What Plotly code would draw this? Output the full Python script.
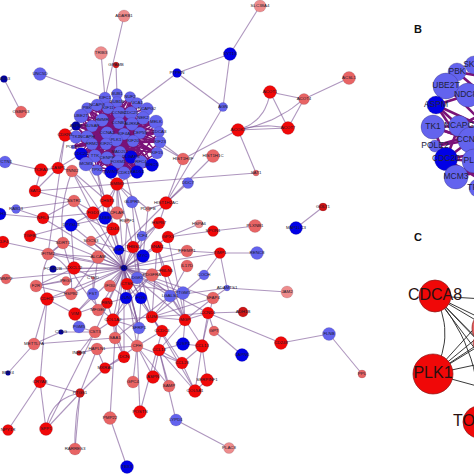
import numpy as np
import plotly.graph_objects as go

# module A, outer genes (layout position, group, degree-like weight)
genes = ["ADARB1","TRIB3","GPAMB","UNC5D","NEIL3","OSBPL3","PTPRN","SYT13","AGN","SLC38A4",
         "ACSL1","ACOT1","ACOT4","ACOT7","ACOX2","HIST1H1C","SAT1","HIST1H3F","DDC7","CDKN3",
         "TCTN1","TCEA3","CASP1","TNNI2","SMIM3","SAT2","SSTR1","CHST3","GLIPR1","HIST1H2AC",
         "RAB13","MYH2","NFIL3","FGD3","CFLAR","TUBB6","PDGFB","DPYSL3","CD44","RGPF1",
         "HSPB7","HSPA6","SPON1","TGFBI","GPX3","TCF4","KLF4","SDRT1","SOCS3","IFITM2",
         "ALCAM","CXCL12","EGR1","THBS1","MYC","SNAI2","EFEMP1","TIMP1","RENC8","IL17D",
         "FBLN5","COCH","FCGR2B","FN1","DGKI","PDGFRA","MMP2","F2R","PEG3","CTSD",
         "IFI30","CTSK","ADAMTS1","PTGMT","LGALS1","SFAP4","HSPB2","FST","CDH11","FBN1",
         "JUN","FOS","MFGE8","VIM","CCND1","LUM","MGP","COL1A2","PGM5","CST3",
         "SFRP1","CCDC3","GPT","CTSG","SAA1","METTL7A","DUSP1","CCL13","CFH","CCL18",
         "HAPLN1","INHBB","DCN","CCL28","MXRA5","BMP4","CAPN6","CD248","FLNB","PPL",
         "JAM2","ADH1B","PLXNB1","GOLT1","MAP1LC3","GPC4","ASPN","SAMP","SERPINF1","COL5A1",
         "CRYAB","PTGS1","POSTN","PMP22","LYPD1","SPP1","NPY1R","RARRES3","PLAC8","TBX3"]
gene_x = [124,101,116,40,4,21,177,230,223,260,
          349,270,304,288,238,213,256,183,188,65,
          5,41,58,72,117,35,74,107,132,166,
          16,0,43,93,117,105,148,71,113,127,
          159,199,213,30,168,142,3,63,91,48,
          98,74,119,133,143,157,187,220,257,187,
          166,204,53,124,137,152,6,36,66,93,
          110,127,227,183,170,213,71,93,47,107,
          126,141,98,75,208,152,185,113,79,95,
          139,162,214,61,115,34,183,202,137,159,
          97,79,124,182,105,8,242,281,329,362,
          287,243,255,323,296,133,153,169,207,195,
          40,80,140,110,176,46,8,75,229,127]
gene_y = [16,53,65,74,79,112,73,54,107,6,
          78,92,99,128,130,156,173,159,183,135,
          162,170,168,171,184,191,201,201,202,203,
          209,214,218,213,213,218,209,225,229,221,
          223,224,231,236,237,236,242,243,241,254,
          257,268,250,247,256,247,251,253,253,266,
          271,275,269,268,278,275,279,286,281,278,
          286,284,288,293,296,298,294,294,299,303,
          298,298,310,314,313,317,320,320,327,332,
          328,331,331,332,338,344,344,346,346,350,
          349,353,357,363,368,373,355,343,334,374,
          292,312,226,207,228,382,377,386,380,391,
          382,393,412,418,420,429,430,449,448,467]
gene_group = ["P","P","D","M","N","S","B","B","M","P",
              "S","R","S","R","R","S","S","S","M","R",
              "M","R","R","S","R","R","S","R","M","R",
              "M","B","R","R","S","B","P","B","R","P",
              "R","P","R","R","R","M","R","S","S","S",
              "S","R","B","R","B","R","S","R","M","S",
              "R","M","N","N","M","S","S","S","S","S",
              "S","R","M","M","M","S","S","M","R","R",
              "B","B","S","R","R","R","R","R","M","S",
              "M","R","S","N","S","S","B","R","S","R",
              "S","D","R","R","R","N","B","R","M","S",
              "P","D","S","D","B","S","R","S","R","R",
              "R","D","R","S","M","R","R","S","P","B"]
gene_weight = [6,6.5,3,6.5,3.5,6,4.5,6.5,4.5,6,
               6.5,6.5,5.5,6.5,6.5,6.5,3,6,5.5,6.5,
               6,6.5,6,6,6.5,6,6,6.5,6,6.5,
               4.5,6,6,6.5,6.5,6.5,2.5,6.5,6.5,2.5,
               6,4,5.5,6,6,5,6,6,5,6,
               6.5,6.5,5,6,6.5,6,6,5.5,6.5,6,
               6,5,3.5,3,6,6.5,5,6,4.5,1.5,
               6,6,3,6.5,6,6,6,6,6.5,5.5,
               6,6,6,6.5,6,6,6,6.5,6,6,
               6,6,5,2.5,6,6,6.5,6.5,6,6,
               6,2.5,6,6,5.5,2.5,6.5,6.5,6.5,4,
               6,5,6.5,4,6.5,6,6.5,6,6.5,6.5,
               6,4.5,6.5,6.5,6,6.5,5.5,6,5.5,6.5]

# module A, dense proliferation cluster
cluster = ["KIFC1","BUB1","NUF2","UCA1","BUB1B","PBK_a","NCAPG_a","KIF11","CCNB2","CDC25",
           "NCAPG2","UBE2T_a","HMMR","NEK2","MELK","NUSAP","CCNB1","AURKA","ASPM_a","CDCA3",
           "CEP55","CCNA2","KIF4A","TK1_a","NCAPH","KIF20","PLK1_a","KIF23","RRM2","KIF2C",
           "POLE2_a","MAD2L1","CDC20_a","KIF15","DLGAP5","TTK","CENPF","FOXM1","RFC4","BIRC5",
           "MCM3_a","TPX2_a","ZWINT","RAD51","CDK1"]
cluster_x = [105,117,130,137,117,87,97,108,119,131,
             147,81,102,143,156,92,119,132,76,159,
             140,107,124,76,87,133,116,160,92,106,
             73,120,81,157,131,95,107,118,141,152,
             86,97,111,137,124]
cluster_y = [98,94,97,103,102,108,105,108,113,113,
             109,116,120,118,122,126,123,124,126,132,
             133,133,134,137,137,141,140,142,144,144,
             147,152,154,153,157,156,158,162,162,165,
             164,170,172,172,173]
cluster_group = ["M","M","M","M","M","M","M","M","M","M",
                 "M","M","M","M","M","M","M","M","N","M",
                 "M","M","M","M","M","M","M","M","M","M",
                 "M","M","B","M","B","M","M","M","M","B",
                 "M","M","B","B","M"]
cluster_weight = [6,5.5,5.5,5.5,5.5,5.5,6,6,6.5,6.5,
                  6.5,7,6.5,6.5,7,6,6,6.5,4.5,5.5,
                  6,6.5,6,6.5,6.5,6,6.5,6,6,6,
                  2,6,6.5,6,6.5,6.5,6.5,6.5,6.5,6.5,
                  7,5.5,6.5,6.5,6.5]
cluster_hubs = ["CDK1","CCNA2","AURKA","PLK1_a","HMMR","RRM2","KIF4A","KIF20"]

edges = [("ADARB1","KIFC1"),("TRIB3","KIFC1"),("GPAMB","BUB1"),("UNC5D","KIFC1"),("NEIL3","OSBPL3"),
         ("PTPRN","UCA1"),("PTPRN","AGN"),("PTPRN","SYT13"),("SYT13","SLC38A4"),("SYT13","AGN"),
         ("AGN","HIST1H2AC"),("HIST1H3F","ACOX2"),("HIST1H3F","KIF23"),("HIST1H3F","HIST1H2AC"),
         ("HIST1H1C","HIST1H2AC"),("HIST1H3F","CCNB1"),("SMIM3","SAT1"),("ACOX2","SAT1"),
         ("ACOX2","ACOT7"),("ACOT1","ACOT4"),("ACOT1","ACOT7"),("ACOT4","ACOT7"),("ACOT4","ACSL1"),
         ("TCTN1","TCEA3"),("TCEA3","CASP1"),("CASP1","TNNI2"),("CDKN3","CASP1"),("CDKN3","ASPM_a"),
         ("CASP1","CDC20_a"),("TCEA3","SAT2"),("CASP1","SAT2"),("SAT2","SMIM3"),("SAT2","SSTR1"),
         ("TNNI2","CHST3"),("TNNI2","TUBB6"),("SSTR1","TUBB6"),("SSTR1","FN1"),("TNNI2","FGD3"),
         ("RAB13","NFIL3"),("RAB13","SSTR1"),("NFIL3","SSTR1"),("NFIL3","FGD3"),("MYH2","NFIL3"),
         ("TPX2_a","CD44"),("ZWINT","SMIM3"),("RAD51","SMIM3"),("KIF11","TCF4"),("CDC20_a","SMIM3"),
         ("MCM3_a","CHST3"),("TPX2_a","TUBB6"),("SMIM3","FN1"),("SMIM3","TUBB6"),("SMIM3","CFLAR"),
         ("SMIM3","THBS1"),("SMIM3","CHST3"),("SMIM3","GLIPR1"),("CHST3","FN1"),("CHST3","FGD3"),
         ("CHST3","CFLAR"),("GLIPR1","FOS"),("HIST1H2AC","PDGFB"),("PDGFB","MYC"),("PDGFB","SMIM3"),
         ("RGPF1","FN1"),("HIST1H2AC","HSPB7"),("HIST1H2AC","EGR1"),("HIST1H2AC","DDC7"),
         ("HSPB7","THBS1"),("HSPB7","TCF4"),("HSPA6","GPX3"),("SPON1","GPX3"),("TGFBI","DPYSL3"),
         ("DPYSL3","FN1"),("DPYSL3","TUBB6"),("DPYSL3","FGD3"),("NFIL3","FN1"),("TGFBI","SDRT1"),
         ("KLF4","FN1"),("SDRT1","FN1"),("SOCS3","FN1"),("IFITM2","SDRT1"),("IFITM2","FN1"),
         ("ALCAM","FN1"),("CXCL12","FN1"),("FCGR2B","FN1"),("F2R","FN1"),("MMP2","FN1"),("PEG3","F2R"),
         ("COL1A2","FN1"),("CTSK","FN1"),("SNAI2","FN1"),("THBS1","FN1"),("EGR1","FN1"),("CD44","FN1"),
         ("FGD3","FN1"),("TUBB6","FN1"),("SFRP1","FN1"),("LUM","FN1"),("MGP","FN1"),("LGALS1","FN1"),
         ("CDH11","FN1"),("PTGMT","FN1"),("SFAP4","FN1"),("CCND1","FN1"),("FBLN5","FN1"),("PDGFRA","FN1"),
         ("TCF4","FN1"),("GPX3","FN1"),("HSPB7","FN1"),("EFEMP1","FN1"),("TIMP1","FN1"),("CFH","FN1"),
         ("DCN","FN1"),("HSPB2","FN1"),("MFGE8","FN1"),("VIM","FN1"),("IFI30","FN1"),("JUN","FN1"),
         ("FOS","FN1"),("MYC","FN1"),("CST3","FN1"),("SAA1","FN1"),("DGKI","THBS1"),("SNAI2","EFEMP1"),
         ("EFEMP1","TIMP1"),("TIMP1","RENC8"),("TIMP1","COCH"),("TIMP1","ADAMTS1"),("ADAMTS1","JAM2"),
         ("ADAMTS1","SFAP4"),("ADAMTS1","LGALS1"),("COCH","PTGMT"),("IL17D","LGALS1"),("FBLN5","SNAI2"),
         ("FBLN5","MGP"),("PDGFRA","COL1A2"),("PDGFRA","JUN"),("PTGMT","MGP"),("PTGMT","LUM"),
         ("LGALS1","LUM"),("LGALS1","MGP"),("LGALS1","SAA1"),("SFAP4","MGP"),("SFAP4","CCL13"),
         ("SFAP4","LUM"),("CCND1","MGP"),("CCND1","ADH1B"),("CCND1","CD248"),("CCND1","GPT"),
         ("CCND1","CCL13"),("CCND1","LUM"),("MGP","LUM"),("MGP","CCL13"),("MGP","DUSP1"),("MGP","CCL18"),
         ("LUM","COL1A2"),("LUM","CCL28"),("LUM","COL5A1"),("LUM","CCDC3"),("GPT","CAPN6"),
         ("CD248","FLNB"),("FLNB","PPL"),("JUN","COL1A2"),("JUN","SFRP1"),("FOS","SFRP1"),("FOS","LUM"),
         ("SFRP1","CFH"),("SFRP1","COL1A2"),("CFH","CCL28"),("CFH","ASPN"),("CFH","GPC4"),("CFH","HAPLN1"),
         ("CFH","MXRA5"),("CFH","SAMP"),("CFH","CCDC3"),("COL1A2","SAA1"),("COL1A2","CST3"),("COL1A2","FBN1"),
         ("COL1A2","CFH"),("COL1A2","DCN"),("SAA1","METTL7A"),("SAA1","DCN"),("SAA1","PMP22"),
         ("CST3","PGM5"),("CST3","CTSG"),("CST3","INHBB"),("CST3","SPP1"),("PGM5","VIM"),("VIM","CDH11"),
         ("VIM","FST"),("FST","CTSD"),("FST","MFGE8"),("FST","ALCAM"),("CTSG","METTL7A"),("HAPLN1","INHBB"),
         ("HAPLN1","MXRA5"),("HAPLN1","PTGS1"),("MXRA5","PTGS1"),("MXRA5","DCN"),("METTL7A","BMP4"),
         ("CDH11","METTL7A"),("CDH11","CRYAB"),("CRYAB","PTGS1"),("CRYAB","SPP1"),("CRYAB","NPY1R"),
         ("PTGS1","SPP1"),("PTGS1","RARRES3"),("PMP22","TBX3"),("DUSP1","CCL18"),("DUSP1","CCL13"),
         ("CCL18","CCL28"),("CCL18","COL5A1"),("CCL18","LYPD1"),("CCL18","ASPN"),("CCL28","CCL13"),
         ("CCL28","COL5A1"),("CCL13","COL5A1"),("CCL13","SERPINF1"),("COL5A1","SERPINF1"),
         ("CCDC3","POSTN"),("CFH","POSTN"),("LYPD1","PLAC8"),("GOLT1","MAP1LC3"),("PLXNB1","SPON1"),
         ("CCL18","SAMP"),("MYC","SOCS3"),("CTSK","LUM"),("CTSK","SFRP1"),("CTSK","PTGMT"),("CD44","ALCAM"),
         ("THBS1","LUM"),("SNAI2","LUM"),("SNAI2","LGALS1"),("GPX3","MGP"),("EGR1","SFRP1"),("TCF4","DGKI"),
         ("F2R","CXCL12"),("F2R","HSPB2"),("HSPB2","ALCAM"),("HSPB2","CDH11"),("CTSD","CXCL12"),
         ("DPYSL3","CXCL12"),("IFITM2","ALCAM"),("SOCS3","CD44"),("DGKI","CTSK"),("IFI30","JUN"),
         ("CDKN3","IFITM2"),("FBN1","JUN"),("FBN1","VIM"),("FBN1","FN1")]
# curved links: (gene, gene, bend as a share of the link length)
curved_edges = [("ACOX2","ACOT1",0.16),("ACOX2","ACOT4",0.07),("ACOX2","ACOT7",-0.06),
                ("PTGS1","SPP1",0.18),("PTGS1","RARRES3",0.03),("SDRT1","CDH11",0.2),
                ("HSPB2","IFITM2",0.2),("MGP","FN1",0.12),("TNNI2","COL1A2",0.18),("SSTR1","CD44",0.12)]

# module B, enlarged view, some genes sit past the crop edge
b_genes = ["NCAPH2","SKA1","KIF4","TTK2","CENPE","CCNB1_b","HMMR2","PLK1_c","TPX2",
           "PBK","UBE2T","ASPM","NDC80","TK1","NCAPG","CCNA2","POLE2","CDC20","PLK1","MCM3"]
b_x = [492,474,495,490,500,486,498,490,478,457,446,436,468,433,459,471,435,446,474,456]
b_y = [78,65,105,130,150,170,190,110,188,72,86,105,95,127,126,140,146,159,161,177]
b_group = ["M","M","M","M","M","M","M","M","M","M","M","B","M","M","M","M","M","B","M","M"]
b_weight = [11,9,11,11,11,11,11,11,9,9,13,9,12,12,10.5,13,6,11.5,12,12]
b_show = [0,1,0,0,0,0,0,0,1,1,1,1,1,1,1,1,1,1,1,1]
b_edges = [("PBK","NCAPH2"),("PBK","KIF4"),("UBE2T","NDC80"),("UBE2T","KIF4"),("UBE2T","TTK2"),
           ("ASPM","NDC80"),("ASPM","NCAPG"),("ASPM","PLK1"),("ASPM","TTK2"),("TK1","NCAPG"),
           ("TK1","CCNA2"),("TK1","CDC20"),("TK1","CENPE"),("NCAPG","CDC20"),("POLE2","CCNA2"),
           ("POLE2","TTK2"),("CDC20","PLK1"),("CDC20","CCNA2"),("CDC20","HMMR2"),("CDC20","CENPE"),
           ("MCM3","PLK1"),("MCM3","CCNB1_b"),("MCM3","CENPE"),("TPX2","HMMR2"),("SKA1","KIF4"),
           ("SKA1","NCAPH2"),("NDC80","KIF4"),("NDC80","PLK1_c"),("NCAPG","TTK2"),("NCAPG","PLK1_c"),
           ("CCNA2","CENPE"),("CCNA2","PLK1_c"),("PLK1","TTK2"),("PLK1","CCNB1_b"),("TPX2","CCNB1_b")]

# module C, enlarged view
c_genes = ["CDCA8","PLK1","TOP2A","CCNB1","BUB1","AURKB","CDC20","KIF2C","CCNA2"]
c_x = [435,433,479,489,480,500,505,498,510]
c_y = [296,374,422,328,343,300,330,360,395]
c_group = ["R","R","R","S","P","R","R","R","R"]
c_weight = [16,20,16,17,7,16,16,16,16]
c_show = [1,1,1,0,0,0,0,0,0]
c_edges = [("CDCA8","AURKB"),("CDCA8","CDC20"),("CDCA8","KIF2C"),("CDCA8","CCNA2"),("CDCA8","BUB1"),
           ("CDCA8","CCNB1"),("PLK1","AURKB"),("PLK1","CDC20"),("PLK1","KIF2C"),("PLK1","CCNA2"),
           ("PLK1","BUB1"),("PLK1","CCNB1"),("TOP2A","BUB1")]
c_curved = [("CDCA8","PLK1",-0.14),("CDCA8","TOP2A",-0.1)]

palette = {"R": "#f00808", "S": "#e86464", "P": "#ee8c8c", "D": "#cc1414",
           "B": "#0000e6", "M": "#6363ee", "N": "#0000a8"}


def edge_xy(links, pos, curved=()):
    xs, ys = [], []
    for a, b in links:
        xs += [pos[a][0], pos[b][0], None]
        ys += [pos[a][1], pos[b][1], None]
    for a, b, bend in curved:
        p0, p1 = np.array(pos[a], float), np.array(pos[b], float)
        d = p1 - p0
        ctrl = (p0 + p1) / 2 + bend * 2 * np.array([-d[1], d[0]])
        t = np.linspace(0, 1, 16)
        pts = [(1 - u) ** 2 * p0 + 2 * u * (1 - u) * ctrl + u ** 2 * p1 for u in t]
        xs += [p[0] for p in pts] + [None]
        ys += [p[1] for p in pts] + [None]
    return xs, ys


def label(name):
    return name.split("_")[0]


fig = go.Figure()

pos_a = {n: (x, y) for n, x, y in zip(genes + cluster, gene_x + cluster_x, gene_y + cluster_y)}
pos_b = {n: (x, y) for n, x, y in zip(b_genes, b_x, b_y)}
pos_c = {n: (x, y) for n, x, y in zip(c_genes, c_x, c_y)}

xs, ys = edge_xy(edges, pos_a, curved_edges)
fig.add_trace(go.Scatter(x=xs, y=ys, mode="lines", hoverinfo="skip",
                         line=dict(color="rgba(125,85,150,0.62)", width=1.1)))

dense = [(h, c) for h in cluster_hubs for c in cluster if h != c]
xs, ys = edge_xy(dense, pos_a)
fig.add_trace(go.Scatter(x=xs, y=ys, mode="lines", hoverinfo="skip",
                         line=dict(color="#7a1278", width=1.4)))

xs, ys = edge_xy(b_edges, pos_b)
fig.add_trace(go.Scatter(x=xs, y=ys, mode="lines", hoverinfo="skip",
                         line=dict(color="#7a1278", width=2.6)))

xs, ys = edge_xy(c_edges, pos_c, c_curved)
fig.add_trace(go.Scatter(x=xs, y=ys, mode="lines", hoverinfo="skip",
                         line=dict(color="#222222", width=0.9)))

fig.add_trace(go.Scatter(
    x=gene_x + cluster_x, y=gene_y + cluster_y, mode="markers+text",
    text=[label(n) for n in genes + cluster], textposition="middle center",
    textfont=dict(family="Liberation Sans", size=4.4, color="#1a1a2a"),
    marker=dict(size=[w * 2 for w in gene_weight + cluster_weight],
                color=[palette[g] for g in gene_group + cluster_group],
                opacity=1, line=dict(color="rgba(60,30,60,0.35)", width=0.4))))

fig.add_trace(go.Scatter(
    x=b_x, y=b_y, mode="markers+text",
    text=[label(n) if s else "" for n, s in zip(b_genes, b_show)], textposition="middle center",
    textfont=dict(family="Liberation Sans", size=8.5, color="#20203a"),
    marker=dict(size=[w * 2 for w in b_weight],
                color=[palette[g] for g in b_group],
                opacity=1, line=dict(color="rgba(50,40,90,0.6)", width=0.5))))

fig.add_trace(go.Scatter(
    x=c_x, y=c_y, mode="markers+text",
    text=[n if s else "" for n, s in zip(c_genes, c_show)], textposition="middle center",
    textfont=dict(family="Liberation Sans", size=16, color="#2a1010"),
    marker=dict(size=[w * 2 for w in c_weight],
                color=[palette[g] for g in c_group],
                opacity=1, line=dict(color="#8a1a1a", width=0.7))))

for letter, lx, ly in [("B", 418, 29), ("C", 418, 237)]:
    fig.add_annotation(x=lx, y=ly, text="<b>" + letter + "</b>", showarrow=False,
                       font=dict(family="Liberation Sans", size=11, color="#111111"))

fig.update_layout(
    width=474, height=474,
    margin=dict(l=0, r=0, t=0, b=0),
    paper_bgcolor="white", plot_bgcolor="white",
    showlegend=False,
    xaxis=dict(range=[0, 474], visible=False),
    yaxis=dict(range=[474, 0], visible=False),
)

fig.write_html("out.html", config=dict(displayModeBar=False),
               post_script="document.body.style.margin='0';")
